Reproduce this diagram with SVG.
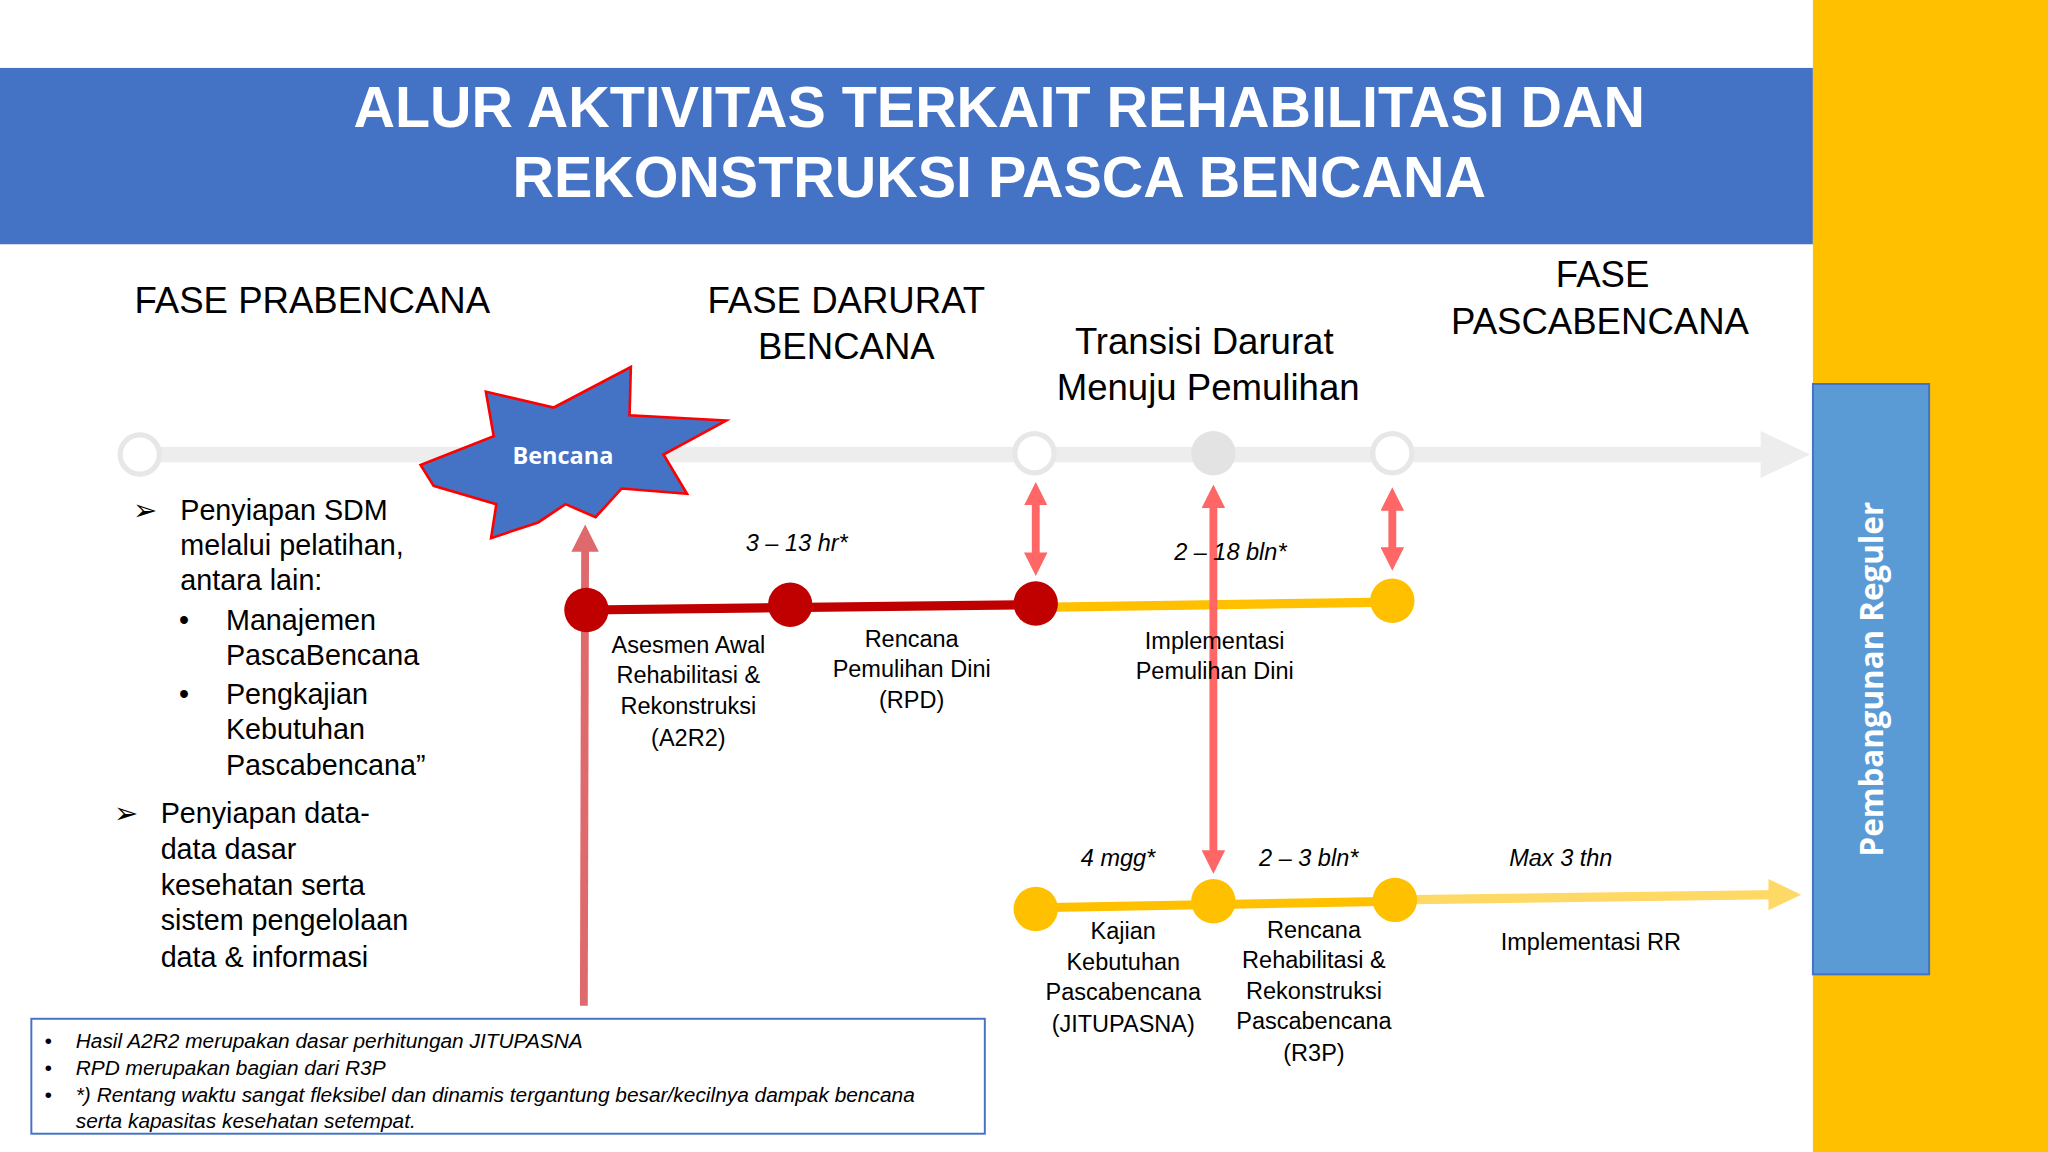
<svg xmlns="http://www.w3.org/2000/svg" width="2048" height="1152" viewBox="0 0 2048 1152">
<style>
.t{font-family:"Liberation Sans",Arial,sans-serif;fill:#000}
.ph{font-size:28px}
.li{font-size:22px}
.lb{font-size:18px;text-anchor:middle}
.it{font-size:18px;font-style:italic;text-anchor:middle}
.nt{font-size:16px;font-style:italic}
</style>
<defs>
<marker id="ar" viewBox="0 0 10 10" refX="5" refY="5" markerWidth="3" markerHeight="3" orient="auto-start-reverse"><path d="M0,0L10,5L0,10z" fill="#FF6666"/></marker>
<marker id="ar2" viewBox="0 0 10 10" refX="5" refY="5" markerWidth="3.5" markerHeight="3.5" orient="auto"><path d="M0,0L10,5L0,10z" fill="#DE6A6E"/></marker>
</defs>
<rect width="2048" height="1152" fill="#fff"/>
<g transform="scale(1.30612)">
<g id="header">
<rect x="0" y="52" width="1388" height="135" fill="#4472C4"/>
<text class="t" x="765" y="97" font-size="44" font-weight="bold" text-anchor="middle" fill="#fff" style="fill:#fff">ALUR AKTIVITAS TERKAIT REHABILITASI DAN</text>
<text class="t" x="765" y="151" font-size="44" font-weight="bold" text-anchor="middle" style="fill:#fff">REKONSTRUKSI PASCA BENCANA</text>
</g>
<rect x="1388" y="0" width="180" height="882" fill="#FFC000"/>
<g id="phases">
<text class="t ph" x="103" y="240">FASE PRABENCANA</text>
<text class="t ph" x="648" y="240" text-anchor="middle">FASE DARURAT</text>
<text class="t ph" x="648" y="275" text-anchor="middle">BENCANA</text>
<text class="t ph" x="922" y="271" text-anchor="middle">Transisi Darurat</text>
<text class="t ph" x="925" y="306" text-anchor="middle">Menuju Pemulihan</text>
<text class="t ph" x="1227" y="220" text-anchor="middle">FASE</text>
<text class="t ph" x="1225" y="256" text-anchor="middle">PASCABENCANA</text>
</g>
<g id="connectors">
<line x1="107" y1="348" x2="1352" y2="348" stroke="#EDEDED" stroke-width="12"/>
<path d="M1348,330L1386,348L1348,366z" fill="#EDEDED"/>
<line x1="447" y1="770" x2="448" y2="412" stroke="#DE6A6E" stroke-width="6" marker-end="url(#ar2)"/>
<line x1="449" y1="467" x2="793" y2="463" stroke="#C00000" stroke-width="7"/>
<line x1="793" y1="465" x2="1066" y2="461" stroke="#FFC000" stroke-width="7"/>
<line x1="793" y1="378" x2="793" y2="432" stroke="#FF6666" stroke-width="6" marker-start="url(#ar)" marker-end="url(#ar)"/>
<line x1="1066" y1="382" x2="1066" y2="428" stroke="#FF6666" stroke-width="6" marker-start="url(#ar)" marker-end="url(#ar)"/>
<line x1="929" y1="380" x2="929" y2="660" stroke="#FF6666" stroke-width="6" marker-start="url(#ar)" marker-end="url(#ar)"/>
<line x1="1068" y1="689" x2="1360" y2="685" stroke="#FFD966" stroke-width="7"/>
<path d="M1354,673L1379,685L1354,697z" fill="#FFD966"/>
<line x1="793" y1="695" x2="1068" y2="690" stroke="#FFC000" stroke-width="7"/>
</g>
<g id="nodes-top">
<circle cx="107" cy="348" r="15" fill="#fff" stroke="#E7E7E7" stroke-width="4"/>
<circle cx="792" cy="347" r="15" fill="#fff" stroke="#E7E7E7" stroke-width="4"/>
<circle cx="929" cy="347" r="17" fill="#E3E3E3"/>
<circle cx="1066" cy="347" r="15" fill="#fff" stroke="#E7E7E7" stroke-width="4"/>
</g>
<g id="bencana">
<polygon points="322,356 378,334 372,300 424,312 483,281 482,318 556,322 508,348 526,378 476,374 456,396 433,386 412,400 376,412 380,386 332,372" fill="#4472C4" stroke="#FF0000" stroke-width="2"/>
<text x="431" y="355" font-family="Open Sans,Liberation Sans,sans-serif" font-size="18" font-weight="bold" fill="#fff" text-anchor="middle">Bencana</text>
</g>
<g id="red-nodes">
<circle cx="449" cy="467" r="17" fill="#C00000"/>
<circle cx="605" cy="463" r="17" fill="#C00000"/>
<circle cx="793" cy="462" r="17" fill="#C00000"/>
<circle cx="1066" cy="460" r="17" fill="#FFC000"/>
</g>
<g id="yellow-nodes">
<circle cx="793" cy="696" r="17" fill="#FFC000"/>
<circle cx="929" cy="690" r="17" fill="#FFC000"/>
<circle cx="1068" cy="689" r="17" fill="#FFC000"/>
</g>
<g id="labels">
<text class="t it" x="610" y="422">3 – 13 hr*</text>
<text class="t it" x="942" y="429">2 – 18 bln*</text>
<text class="t it" x="856" y="663">4 mgg*</text>
<text class="t it" x="1002" y="663">2 – 3 bln*</text>
<text class="t it" x="1195" y="663">Max 3 thn</text>
<text class="t lb" x="527" y="500">Asesmen Awal</text>
<text class="t lb" x="527" y="523">Rehabilitasi &amp;</text>
<text class="t lb" x="527" y="547">Rekonstruksi</text>
<text class="t lb" x="527" y="571">(A2R2)</text>
<text class="t lb" x="698" y="495">Rencana</text>
<text class="t lb" x="698" y="518">Pemulihan Dini</text>
<text class="t lb" x="698" y="542">(RPD)</text>
<text class="t lb" x="930" y="497">Implementasi</text>
<text class="t lb" x="930" y="520">Pemulihan Dini</text>
<text class="t lb" x="860" y="719">Kajian</text>
<text class="t lb" x="860" y="743">Kebutuhan</text>
<text class="t lb" x="860" y="766">Pascabencana</text>
<text class="t lb" x="860" y="790">(JITUPASNA)</text>
<text class="t lb" x="1006" y="718">Rencana</text>
<text class="t lb" x="1006" y="741">Rehabilitasi &amp;</text>
<text class="t lb" x="1006" y="765">Rekonstruksi</text>
<text class="t lb" x="1006" y="788">Pascabencana</text>
<text class="t lb" x="1006" y="812">(R3P)</text>
<text class="t lb" x="1218" y="727">Implementasi RR</text>
</g>
<g id="list">
<text class="t li" x="102" y="398">➢</text>
<text class="t li" x="138" y="398">Penyiapan SDM</text>
<text class="t li" x="138" y="425">melalui pelatihan,</text>
<text class="t li" x="138" y="452">antara lain:</text>
<text class="t li" x="137" y="482">•</text>
<text class="t li" x="173" y="482">Manajemen</text>
<text class="t li" x="173" y="509">PascaBencana</text>
<text class="t li" x="137" y="539">•</text>
<text class="t li" x="173" y="539">Pengkajian</text>
<text class="t li" x="173" y="566">Kebutuhan</text>
<text class="t li" x="173" y="593">Pascabencana”</text>
<text class="t li" x="87" y="630">➢</text>
<text class="t li" x="123" y="630">Penyiapan data-</text>
<text class="t li" x="123" y="658">data dasar</text>
<text class="t li" x="123" y="685">kesehatan serta</text>
<text class="t li" x="123" y="712">sistem pengelolaan</text>
<text class="t li" x="123" y="740">data &amp; informasi</text>
</g>
<g id="notes">
<rect x="24" y="780" width="730" height="88" fill="#fff" stroke="#4472C4" stroke-width="1.5"/>
<text class="t nt" x="34" y="802">•</text><text class="t nt" x="58" y="802">Hasil A2R2 merupakan dasar perhitungan JITUPASNA</text>
<text class="t nt" x="34" y="823">•</text><text class="t nt" x="58" y="823">RPD merupakan bagian dari R3P</text>
<text class="t nt" x="34" y="844">•</text><text class="t nt" x="58" y="844">*) Rentang waktu sangat fleksibel dan dinamis tergantung besar/kecilnya dampak bencana</text>
<text class="t nt" x="58" y="864">serta kapasitas kesehatan setempat.</text>
</g>
<g id="reguler">
<rect x="1388" y="294" width="89" height="452" fill="#5B9BD5" stroke="#4472C4" stroke-width="1.5"/>
<text transform="translate(1442,520) rotate(-90)" font-family="Open Sans,Liberation Sans,sans-serif" font-size="24" font-weight="bold" fill="#fff" text-anchor="middle">Pembangunan Reguler</text>
</g>
</g>
</svg>
